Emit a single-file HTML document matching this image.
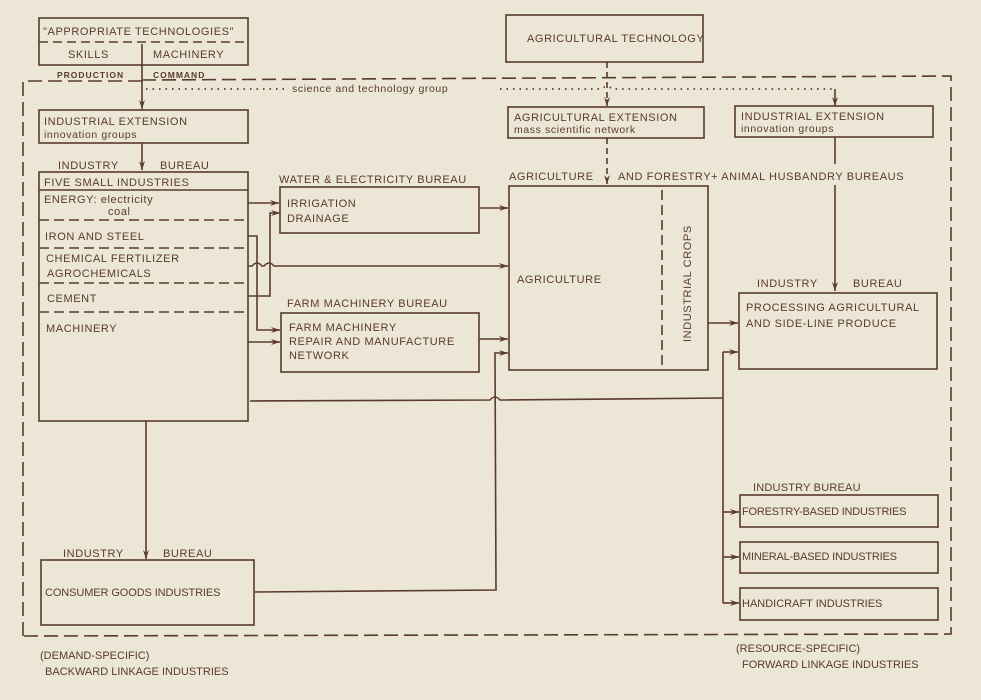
<!DOCTYPE html>
<html><head><meta charset="utf-8"><style>
html,body{margin:0;padding:0;background:#ebe6d6;}
svg{display:block;}
text{font-family:"Liberation Sans",sans-serif;fill:#5a3a2e;font-size:11px;letter-spacing:0.6px;}
.s{font-size:10.5px;}
</style></head><body>
<svg width="981" height="700" viewBox="0 0 981 700">
<defs>
<marker id="a" markerWidth="10" markerHeight="8" refX="9" refY="4" orient="auto" markerUnits="userSpaceOnUse">
<path d="M0,1 L9,4 L0,7 L3,4 Z" fill="#5a3a2e"/></marker>
</defs>
<g fill="none" stroke="#5a3a2e" stroke-width="1.6">
<path d="M23,636 L23,81 L142,81 M142,80 L951,76 L951,634 L23,636" stroke-dasharray="14,6"/>
<rect x="39" y="18" width="209" height="47"/>
<line x1="39" y1="42" x2="248" y2="42" stroke-dasharray="9,5"/>
<line x1="142" y1="44" x2="142" y2="65"/>
<line x1="142" y1="65" x2="142" y2="109" marker-end="url(#a)"/>
<path d="M146,89 L286,89 M500,89 L602,89 Q607,84 612,89 L835,89" stroke-dasharray="1.5,5" stroke-width="1.8"/>
<line x1="835" y1="89" x2="835" y2="106" marker-end="url(#a)"/>
<rect x="506" y="15" width="197" height="47"/>
<line x1="607" y1="62" x2="607" y2="106" stroke-dasharray="6,4" marker-end="url(#a)"/>
<rect x="508" y="107" width="196" height="31"/>
<line x1="607" y1="138" x2="607" y2="184" stroke-dasharray="6,4" marker-end="url(#a)"/>
<rect x="735" y="106" width="198" height="31"/>
<line x1="835" y1="137" x2="835" y2="164"/>
<line x1="835" y1="185" x2="835" y2="291" marker-end="url(#a)"/>
<rect x="39" y="110" width="209" height="33"/>
<line x1="142" y1="143" x2="142" y2="170" marker-end="url(#a)"/>
<rect x="39" y="172" width="209" height="249"/>
<line x1="39" y1="190" x2="248" y2="190"/>
<g stroke-dasharray="10,5">
<line x1="39" y1="220" x2="248" y2="220"/>
<line x1="39" y1="248" x2="248" y2="248"/>
<line x1="39" y1="283" x2="248" y2="283"/>
<line x1="39" y1="312" x2="248" y2="312"/>
</g>
<rect x="280" y="187" width="199" height="46"/>
<rect x="281" y="313" width="198" height="59"/>
<line x1="248" y1="203" x2="279" y2="203" marker-end="url(#a)"/>
<path d="M248,236 L257,236 L257,330 L280,330" marker-end="url(#a)"/>
<path d="M248,296 L270,296 L270,213 L280,213" marker-end="url(#a)"/>
<path d="M248,266 L252,266 Q257,260 262,266 L264,266 Q269,260 274,266 L508,266" marker-end="url(#a)"/>
<line x1="248" y1="342" x2="280" y2="342" marker-end="url(#a)"/>
<line x1="479" y1="208" x2="508" y2="208" marker-end="url(#a)"/>
<line x1="479" y1="339" x2="508" y2="339" marker-end="url(#a)"/>
<rect x="509" y="186" width="199" height="184"/>
<line x1="662" y1="190" x2="662" y2="368" stroke-dasharray="10,5"/>
<rect x="739" y="293" width="198" height="76"/>
<line x1="708" y1="323" x2="738" y2="323" marker-end="url(#a)"/>
<path d="M250,401 L490,400 Q495,394 500,400 L723,398"/>
<path d="M723,352 L738,352" marker-end="url(#a)"/>
<line x1="723" y1="352" x2="723" y2="603"/>
<line x1="723" y1="512" x2="739" y2="512" marker-end="url(#a)"/>
<line x1="723" y1="557" x2="739" y2="557" marker-end="url(#a)"/>
<line x1="723" y1="603" x2="739" y2="603" marker-end="url(#a)"/>
<path d="M254,592 L496,590 L495,353 L508,353" marker-end="url(#a)"/>
<line x1="146" y1="421" x2="146" y2="559" marker-end="url(#a)"/>
<rect x="41" y="560" width="213" height="65"/>
<rect x="740" y="495" width="198" height="32"/>
<rect x="740" y="542" width="198" height="31"/>
<rect x="740" y="588" width="198" height="32"/>
</g>
<text x="43" y="35">"APPROPRIATE TECHNOLOGIES"</text>
<text x="68" y="58">SKILLS</text>
<text x="153" y="58">MACHINERY</text>
<text x="57" y="78" class="s" style="font-size:8.5px;font-weight:bold;letter-spacing:1px">PRODUCTION</text>
<text x="153" y="78" class="s" style="font-size:8.5px;font-weight:bold;letter-spacing:1px">COMMAND</text>
<text x="292" y="92" class="s">science and technology group</text>
<text x="527" y="42">AGRICULTURAL TECHNOLOGY</text>
<text x="514" y="121">AGRICULTURAL EXTENSION</text>
<text x="514" y="133" class="s">mass scientific network</text>
<text x="741" y="120">INDUSTRIAL EXTENSION</text>
<text x="741" y="132" class="s">innovation groups</text>
<text x="44" y="125">INDUSTRIAL EXTENSION</text>
<text x="44" y="138" class="s">innovation groups</text>
<text x="58" y="169">INDUSTRY</text>
<text x="160" y="169">BUREAU</text>
<text x="44" y="186">FIVE SMALL INDUSTRIES</text>
<text x="44" y="203">ENERGY: electricity</text>
<text x="108" y="215">coal</text>
<text x="45" y="240">IRON AND STEEL</text>
<text x="46" y="262">CHEMICAL FERTILIZER</text>
<text x="47" y="277">AGROCHEMICALS</text>
<text x="47" y="302">CEMENT</text>
<text x="46" y="332">MACHINERY</text>
<text x="279" y="183">WATER &amp; ELECTRICITY BUREAU</text>
<text x="287" y="207">IRRIGATION</text>
<text x="287" y="222">DRAINAGE</text>
<text x="287" y="307">FARM MACHINERY BUREAU</text>
<text x="289" y="331">FARM MACHINERY</text>
<text x="289" y="345">REPAIR AND MANUFACTURE</text>
<text x="289" y="359">NETWORK</text>
<text x="509" y="180">AGRICULTURE</text>
<text x="618" y="180">AND FORESTRY+ ANIMAL HUSBANDRY BUREAUS</text>
<text x="517" y="283">AGRICULTURE</text>
<text transform="translate(691,342) rotate(-90)">INDUSTRIAL CROPS</text>
<text x="757" y="287">INDUSTRY</text>
<text x="853" y="287">BUREAU</text>
<text x="746" y="311">PROCESSING AGRICULTURAL</text>
<text x="746" y="327">AND SIDE-LINE PRODUCE</text>
<text x="753" y="491" style="letter-spacing:0.2px">INDUSTRY  BUREAU</text>
<text x="742" y="515" style="letter-spacing:-0.2px">FORESTRY-BASED INDUSTRIES</text>
<text x="742" y="560" style="letter-spacing:-0.2px">MINERAL-BASED INDUSTRIES</text>
<text x="742" y="607" style="letter-spacing:0px">HANDICRAFT  INDUSTRIES</text>
<text x="63" y="557">INDUSTRY</text>
<text x="163" y="557">BUREAU</text>
<text x="45" y="596" style="letter-spacing:-0.1px">CONSUMER GOODS INDUSTRIES</text>
<text x="40" y="659" style="letter-spacing:0px">(DEMAND-SPECIFIC)</text>
<text x="45" y="675" style="letter-spacing:0px">BACKWARD LINKAGE INDUSTRIES</text>
<text x="736" y="652" style="letter-spacing:0px">(RESOURCE-SPECIFIC)</text>
<text x="742" y="668" style="letter-spacing:0px">FORWARD LINKAGE INDUSTRIES</text>
</svg>
</body></html>
